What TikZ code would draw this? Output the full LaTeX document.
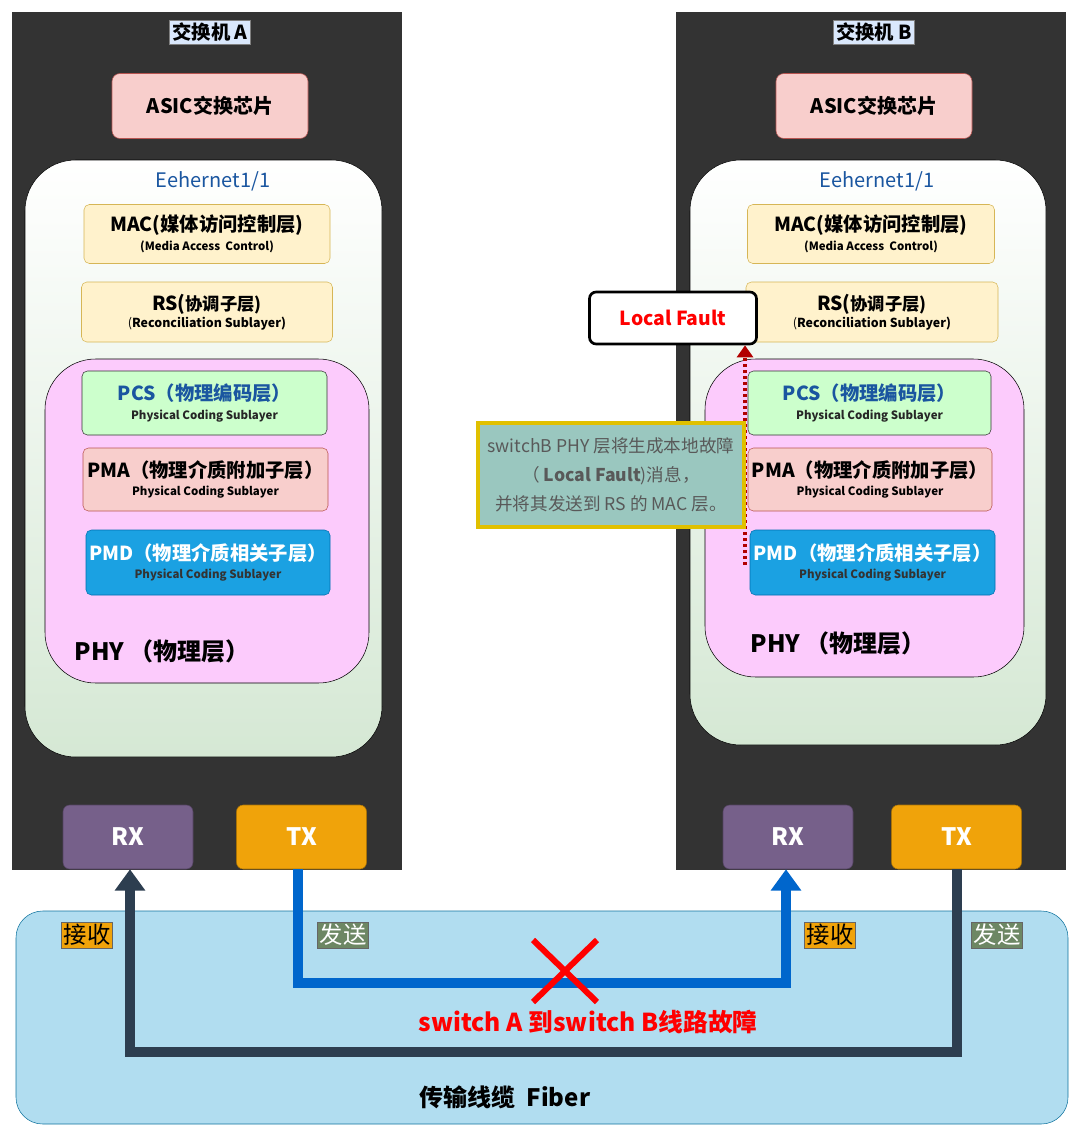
\documentclass[tikz,border=0pt]{standalone}
\usepackage{fontspec}
\setmainfont{Noto Sans CJK SC}
\usetikzlibrary{arrows.meta}
\definecolor{dark}{HTML}{333333}
\definecolor{lblue}{HTML}{DAE8FC}
\definecolor{asic}{HTML}{F8CECC}
\definecolor{asicb}{HTML}{B85450}
\definecolor{yel}{HTML}{FFF2CC}
\definecolor{yelb}{HTML}{D6B656}
\definecolor{pink}{HTML}{FCCBFC}
\definecolor{pcs}{HTML}{CCFFCC}
\definecolor{pmd}{HTML}{1BA1E2}
\definecolor{pmdb}{HTML}{006EAF}
\definecolor{rx}{HTML}{76608A}
\definecolor{tx}{HTML}{F0A30A}
\definecolor{fib}{HTML}{B1DDF0}
\definecolor{fibb}{HTML}{10739E}
\definecolor{gr}{HTML}{6D8764}
\definecolor{line1}{HTML}{0066CC}
\definecolor{line2}{HTML}{2D3E50}
\definecolor{eth}{HTML}{1A56A0}
\definecolor{note}{HTML}{9AC7BF}
\definecolor{noteb}{HTML}{E0C000}
\definecolor{lfr}{HTML}{B20000}
\definecolor{gtxt}{HTML}{D5E8D4}
\tikzset{
 box/.style={draw,rounded corners=6pt,minimum width=#1,align=center,inner sep=1pt},
 big/.style={font=\bfseries\fontsize{15}{17}\selectfont},
 lab/.style={font=\fontsize{17.5}{19}\selectfont,inner sep=1.5pt,draw=black!60},
}
\newcommand{\twol}[2]{{\bfseries\fontsize{14.5}{17}\selectfont #1}\\[2pt]{\bfseries\fontsize{8.6}{10}\selectfont #2}}
\begin{document}
\begin{tikzpicture}[x=0.75pt,y=-0.75pt]
\useasboundingbox (0,0) rectangle (1080,1138);
% switches
\fill[dark] (12,12) rectangle (402,870);
\fill[dark] (676,12) rectangle (1066,870);
\node[fill=lblue,draw=black!50,inner sep=2pt,font=\bfseries\fontsize{14.5}{16}\selectfont] (la) at (210,32) {交换机 A};
\node[fill=lblue,draw=black!50,inner sep=2pt,font=\bfseries\fontsize{14.5}{16}\selectfont] (lb) at (874,32) {交换机 B};
\node[box=196*0.75pt,minimum height=65*0.75pt,fill=asic,draw=asicb,big] (asa) at (210,106) {ASIC交换芯片};
\node[box=196*0.75pt,minimum height=65*0.75pt,fill=asic,draw=asicb,big] (asb) at (874,106) {ASIC交换芯片};
% ethernet boxes
\shade[top color=white,bottom color=gtxt,draw=black,rounded corners=38pt] (25,160) rectangle (382,757);
\shade[top color=white,bottom color=gtxt,draw=black,rounded corners=38pt] (690,160) rectangle (1046,745);
\node[text=eth,font=\fontsize{15}{16}\selectfont] (ea) at (213,181) {Eehernet1/1};
\node[text=eth,font=\fontsize{15}{16}\selectfont] (eb) at (877,181) {Eehernet1/1};
% MAC RS
\node[box=246*0.75pt,minimum height=59*0.75pt,fill=yel,draw=yelb,rounded corners=4pt] (maca) at (207,234) {\twol{MAC(媒体访问控制层)}{(Media Access\ \ Control)}};
\node[box=247*0.75pt,minimum height=59*0.75pt,fill=yel,draw=yelb,rounded corners=4pt] (macb) at (871,234) {\twol{MAC(媒体访问控制层)}{(Media Access\ \ Control)}};
\node[box=251*0.75pt,minimum height=60*0.75pt,fill=yel,draw=yelb,rounded corners=4pt] (rsa) at (207,312) {{\bfseries\fontsize{14.5}{17}\selectfont RS(}{\fontsize{13}{17}\selectfont\bfseries 协调子层)}\\[1pt]{\fontsize{9.3}{10}\selectfont (\textbf{Reconciliation Sublayer)}}};
\node[box=252*0.75pt,minimum height=60*0.75pt,fill=yel,draw=yelb,rounded corners=4pt] (rsb) at (872,312) {{\bfseries\fontsize{14.5}{17}\selectfont RS(}{\fontsize{13}{17}\selectfont\bfseries 协调子层)}\\[1pt]{\fontsize{9.3}{10}\selectfont (\textbf{Reconciliation Sublayer)}}};
% PHY
\draw[fill=pink,rounded corners=38pt] (45,359) rectangle (369,683);
\draw[fill=pink,rounded corners=38pt] (705,359) rectangle (1024,677);
\node[font=\bfseries\fontsize{18}{20}\selectfont,anchor=west] (pha) at (70,651) {PHY （物理层）};
\node[font=\bfseries\fontsize{18}{20}\selectfont,anchor=west] (phb) at (746,643) {PHY （物理层）};
\node[box=245*0.75pt,minimum height=64*0.75pt,fill=pcs,draw=black!80,rounded corners=4pt,text=eth] (pcsa) at (204.5,403) {\twol{PCS（物理编码层）}{\textcolor{black!85}{Physical Coding Sublayer}}};
\node[box=243*0.75pt,minimum height=64*0.75pt,fill=pcs,draw=black!80,rounded corners=4pt,text=eth] (pcsb) at (869.5,403) {\twol{PCS（物理编码层）}{\textcolor{black!85}{Physical Coding Sublayer}}};
\node[box=245*0.75pt,minimum height=63*0.75pt,fill=asic,draw=asicb,rounded corners=4pt] (pmaa) at (205.5,479.5) {\twol{PMA（物理介质附加子层）}{Physical Coding Sublayer}};
\node[box=244*0.75pt,minimum height=63*0.75pt,fill=asic,draw=asicb,rounded corners=4pt] (pmab) at (870,479.5) {\twol{PMA（物理介质附加子层）}{Physical Coding Sublayer}};
\node[box=244*0.75pt,minimum height=65*0.75pt,fill=pmd,draw=pmdb,text=white,rounded corners=4pt] (pmda) at (208,562.5) {\twol{PMD（物理介质相关子层）}{\textcolor{black!80}{Physical Coding Sublayer}}};
\node[box=245*0.75pt,minimum height=65*0.75pt,fill=pmd,draw=pmdb,text=white,rounded corners=4pt] (pmdb) at (872.5,562.5) {\twol{PMD（物理介质相关子层）}{\textcolor{black!80}{Physical Coding Sublayer}}};
% RX TX
\tikzset{port/.style={box=130*0.75pt,minimum height=64*0.75pt,text=white,font=\bfseries\fontsize{18}{20}\selectfont,rounded corners=5pt}}
\node[port,fill=rx,draw=rx!70!black] (rxa) at (128,837) {RX};
\node[port,fill=tx,draw=tx!70!black] (txa) at (301.5,837) {TX};
\node[port,fill=rx,draw=rx!70!black] (rxb) at (788,837) {RX};
\node[port,fill=tx,draw=tx!70!black] (txb) at (956.5,837) {TX};
% fiber
\draw[fill=fib,draw=fibb,rounded corners=20pt] (16,911) rectangle (1068,1124);
\node[font=\bfseries\fontsize{18}{20}\selectfont] (fb) at (505,1097) {传输线缆\ \ Fiber};
\coordinate (c1) at (298,983); \coordinate (c2) at (786,983);
\draw[line1,line width=7.5pt,-{Triangle[length=16pt,width=22pt]}] (txa.south-|c1) -- (c1) -- (c2) -- (rxb.south-|c2);
\coordinate (d1) at (957,1052); \coordinate (d2) at (130,1052);
\draw[line2,line width=7.5pt,-{Triangle[length=16pt,width=22pt]}] (txb.south-|d1) -- (d1) -- (d2) -- (rxa.south-|d2);
\node[lab,fill=tx] (ja) at (87,935) {接收};
\node[lab,fill=gr,text=white] (fa) at (343,935) {发送};
\node[lab,fill=tx] (jb) at (830,935) {接收};
\node[lab,fill=gr,text=white] (fbb) at (997,935) {发送};
\draw[red,line width=4.5pt] (533,940) -- (597,1002) (597,940) -- (533,1002);
\node[text=red,font=\bfseries\fontsize{18.5}{20}\selectfont] (err) at (588,1022) {switch A 到switch B线路故障};
% local fault
\node[draw=black,line width=2pt,fill=white,rounded corners=5pt,minimum width=167*0.75pt,minimum height=52*0.75pt,text=red,font=\bfseries\fontsize{14.5}{16}\selectfont] (lf) at (673,318) {Local Fault};
\coordinate (ls) at (745,565);
\draw[lfr,line width=2.5pt,dotted,-{Triangle[length=9pt,width=12pt]}] (ls) -- (lf.south-|ls);
\node[fill=note,draw=noteb,line width=2.5pt,minimum width=266*0.75pt,minimum height=104*0.75pt,align=center,text=black!65,font=\fontsize{13.2}{22}\selectfont] (nt) at (611,475) {switchB PHY 层将生成本地故障\\（ \textbf{Local Fault})消息，\\ 并将其发送到 RS 的 MAC 层。};
\end{tikzpicture}
\end{document}
